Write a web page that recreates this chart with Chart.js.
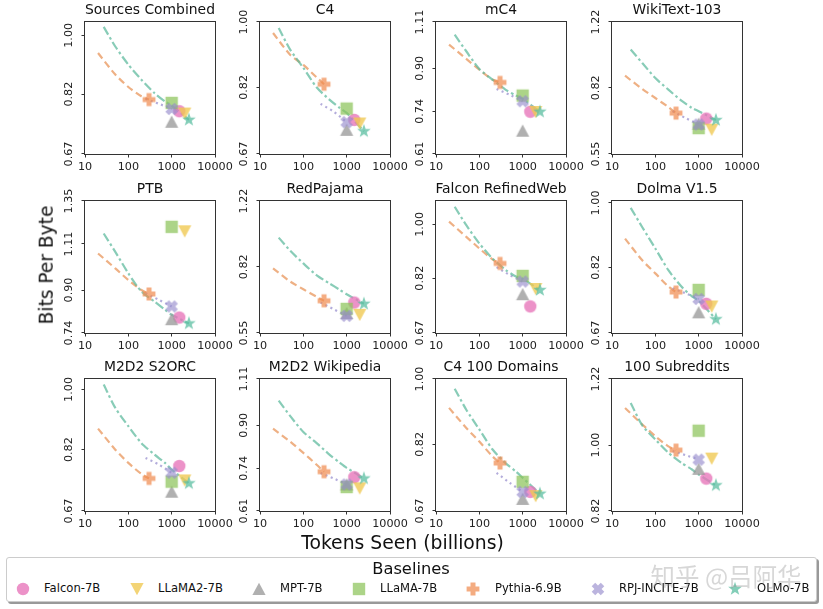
<!DOCTYPE html>
<html><head><meta charset="utf-8">
<script src="https://cdn.jsdelivr.net/npm/chart.js@4"></script>
<style>
html,body{margin:0;padding:0;background:#fff;width:823px;height:609px;overflow:hidden;font-family:"DejaVu Sans",sans-serif;color:#111}
canvas.c{position:absolute}
.t{position:absolute;white-space:nowrap}
#box{position:absolute;left:6px;top:557px;width:809px;height:43px;border:1px solid #ccc;border-radius:3px;background:#fff;box-shadow:2px 2px 0 #999}
</style></head><body>
<script>
const panelTitles = ["Sources Combined","C4","mC4","WikiText-103","PTB","RedPajama","Falcon RefinedWeb","Dolma V1.5","M2D2 S2ORC","M2D2 Wikipedia","C4 100 Domains","100 Subreddits"];
const yTickLists = [[0.67,0.82,1.00],[0.67,0.82,1.00],[0.61,0.74,0.90,1.11],[0.55,0.82,1.22],[0.74,0.90,1.11,1.35],[0.55,0.82,1.22],[0.67,0.82,1.00],[0.67,0.82,1.00],[0.67,0.82,1.00],[0.61,0.74,0.90,1.11],[0.67,0.82,1.00],[0.82,1.00,1.22]];
const yMaxes = [1.046,1.00,1.11,1.22,1.35,1.22,1.09,1.006,1.035,1.11,1.00,1.22];
const xTicks = [10,100,1000,10000];
const baselineNames = ["Falcon-7B","LLaMA2-7B","MPT-7B","LLaMA-7B","Pythia-6.9B","RPJ-INCITE-7B","OLMo-7B"];
const baselineTokens = [1500,2000,1000,1000,300,1000,2500];
const falcon = [.774,.743,.739,.681,.794,.661,.739,.733,.777,.711,.710,.904];
const llama2 = [.768,.735,.738,.637,1.176,.614,.788,.727,.741,.676,.701,.960];
const mpt = [.747,.721,.678,.660,.788,.620,.773,.714,.714,.688,.695,.931];
const llama = [.796,.769,.795,.643,1.200,.636,.827,.765,.738,.680,.732,1.044];
const pythia = [.805,.828,.844,.704,.884,.668,.866,.760,.746,.729,.775,.985];
const rpj = [.780,.738,.775,.657,.835,.610,.810,.744,.760,.688,.710,.957];
const olmo = [.752,.718,.739,.675,.773,.656,.785,.699,.734,.707,.706,.886];
const olmoCurveTokens = [27,50,100,200,400,700,1000,2500];
const olmoCurves = [
 [1.029,.963,.906,.861,.823,.800,.789,.752],
 [.982,.919,.870,.821,.790,.770,.759,.718],
 [1.048,.972,.897,.855,.817,.795,.783,.739],
 [1.033,.952,.870,.811,.759,.726,.712,.675],
 [1.164,1.071,.971,.894,.854,.823,.804,.773],
 [.978,.903,.837,.780,.742,.713,.695,.656],
 [1.067,.997,.932,.882,.846,.825,.818,.785],
 [.985,.928,.869,.813,.773,.750,.740,.699],
 [1.016,.941,.886,.838,.807,.785,.768,.734],
 [1.006,.938,.873,.831,.788,.759,.742,.707],
 [.971,.911,.858,.808,.775,.755,.741,.706],
 [1.135,1.061,1.017,.977,.948,.929,.915,.886]];
const pythiaCurveTokens = [20,50,100,200,300];
const pythiaCurves = [
 [.942,.876,.840,.814,.805],
 [.967,.905,.878,.846,.828],
 [1.002,.939,.894,.855,.844],
 [.882,.814,.771,.730,.704],
 [1.063,.993,.942,.900,.884],
 [.812,.750,.716,.685,.668],
 [1.010,.955,.915,.879,.866],
 [.896,.838,.805,.773,.760],
 [.879,.820,.785,.757,.746],
 [.886,.835,.794,.753,.729],
 [.916,.862,.827,.791,.775],
 [1.118,1.064,1.027,.996,.985]];
const rpjCurveTokens = [250,500,1000];
const rpjCurves = [
 [.807,.794,.780],[.780,.762,.738],[.819,.798,.775],[.712,.683,.657],
 [.887,.861,.835],[.661,.635,.610],[.854,.830,.810],[.769,.757,.744],
 [.798,.781,.760],[.725,.707,.688],[.752,.730,.710],[.982,.970,.957]];
const baselineValues = [falcon,llama2,mpt,llama,pythia,rpj,olmo];

/* styling and layout */
const FONT = '"DejaVu Sans"';
const colors = ["rgba(231,115,185,.78)","rgba(240,200,80,.78)","rgba(150,150,150,.75)","rgba(140,195,90,.72)","rgba(240,140,80,.72)","rgba(150,140,205,.65)","rgba(90,190,160,.75)"];
const shapes = ["circle","down","up","square","plus","x","star"];
const lineTeal="rgba(90,185,155,.72)", lineOrange="rgba(232,145,85,.72)", linePurple="rgba(150,140,205,.72)";
const colLeft=[85,260,436,612], rowTop=[22,201,379];
const PW=130, PH=132, SIDE=36, AXB=24, TITLE=22;

function marker(shape,color){
  const S=18, c=document.createElement('canvas'); c.width=S;c.height=S;
  const g=c.getContext('2d'); g.fillStyle=color; g.translate(S/2,S/2); g.beginPath();
  const poly=p=>{p.forEach((q,i)=>i?g.lineTo(q[0],q[1]):g.moveTo(q[0],q[1]));g.closePath();};
  if(shape==='circle') g.arc(0,0,6.2,0,Math.PI*2);
  if(shape==='square') g.rect(-6.2,-6.2,12.4,12.4);
  if(shape==='up') poly([[0,-6.2],[6.6,6],[-6.6,6]]);
  if(shape==='down') poly([[0,6.2],[6.6,-6],[-6.6,-6]]);
  const a=6.4,b=2.5;
  const plus=[[-b,-a],[b,-a],[b,-b],[a,-b],[a,b],[b,b],[b,a],[-b,a],[-b,b],[-a,b],[-a,-b],[-b,-b]];
  if(shape==='plus') poly(plus);
  if(shape==='x'){const r=Math.SQRT1_2; poly(plus.map(q=>[(q[0]-q[1])*r,(q[0]+q[1])*r]));}
  if(shape==='star'){const p=[];for(let i=0;i<10;i++){const R=i%2?2.9:7.2,t=-Math.PI/2+i*Math.PI/5;p.push([R*Math.cos(t),R*Math.sin(t)]);}poly(p);}
  g.fill();
  return c;
}
const frame={id:'frame',afterDraw(ch){const a=ch.chartArea,g=ch.ctx;g.save();g.strokeStyle='#333';g.lineWidth=1;
  g.strokeRect(Math.round(a.left)-.5,Math.round(a.top)-.5,Math.round(a.right-a.left)+1,Math.round(a.bottom-a.top)+1);g.restore();}};

panelTitles.forEach((title,i)=>{
  const cv=document.createElement('canvas'); cv.className='c';
  const w=SIDE+PW+SIDE,h=TITLE+PH+AXB;
  cv.style.left=(colLeft[i%4]-SIDE)+'px'; cv.style.top=(rowTop[Math.floor(i/4)]-TITLE)+'px';
  cv.style.width=w+'px';cv.style.height=h+'px';cv.width=w;cv.height=h;
  document.body.appendChild(cv);
  const pts=(xs,ys)=>xs.map((x,k)=>({x,y:ys[k]}));
  const datasets=[];
  const line=(label,xs,ys,color,dash,order)=>datasets.push({label,data:pts(xs,ys),showLine:true,borderColor:color,borderWidth:2.2,borderDash:dash,pointRadius:0,tension:.25,order});
  line('Pythia-6.9B curve',pythiaCurveTokens,pythiaCurves[i],lineOrange,[7,4],30);
  line('RPJ-INCITE-7B curve',rpjCurveTokens,rpjCurves[i],linePurple,[2,3.5],29);
  line('OLMo-7B curve',olmoCurveTokens,olmoCurves[i],lineTeal,[9,3,2.5,3],28);
  baselineNames.forEach((n,k)=>datasets.push({label:n,data:[{x:baselineTokens[k],y:baselineValues[k][i]}],
    pointStyle:marker(shapes[k],colors[k]),pointRadius:6,showLine:false,order:20-k}));
  new Chart(cv,{type:'scatter',data:{datasets},plugins:[frame],options:{
    responsive:false,animation:false,devicePixelRatio:1,
    layout:{padding:0},
    plugins:{legend:{display:false},tooltip:{enabled:false},
      title:{display:true,text:title,color:'#111',font:{family:FONT,size:13.9,weight:'normal',lineHeight:1.2},padding:{top:2,bottom:3.3}}},
    scales:{
      x:{type:'logarithmic',min:10,max:10000,
        afterBuildTicks:s=>{s.ticks=xTicks.map(v=>({value:v,major:true}));},
        afterFit:s=>{s.height=AXB;},
        border:{display:false},
        grid:{display:true,drawOnChartArea:false,drawTicks:true,tickLength:3.5,color:'#333',lineWidth:1},
        ticks:{autoSkip:false,minRotation:0,maxRotation:0,padding:3,color:'#222',font:{family:FONT,size:11.2},callback:v=>String(v)}},
      y:{type:'logarithmic',min:yTickLists[i][0],max:yMaxes[i],
        afterBuildTicks:s=>{s.ticks=yTickLists[i].map(v=>({value:v,major:true}));},
        afterFit:s=>{s.width=SIDE;},
        border:{display:false},
        grid:{display:true,drawOnChartArea:false,drawTicks:true,tickLength:3.5,color:'#333',lineWidth:1},
        ticks:{autoSkip:false,minRotation:90,maxRotation:90,padding:0,crossAlign:'center',color:'#222',font:{family:FONT,size:11.2},callback:v=>Number(v).toFixed(2)}},
      spacer:{type:'linear',position:'right',
        afterFit:s=>{s.width=SIDE;},
        border:{display:false},grid:{display:false},ticks:{display:false}}
    }}});
});

function text(s,x,y,size,extra){const d=document.createElement('div');d.className='t';d.textContent=s;
  d.style.cssText+=`left:${x}px;top:${y}px;font-size:${size}px;line-height:1;transform:translate(-50%,-50%) ${extra||''};`;
  document.body.appendChild(d);return d;}
text("Tokens Seen (billions)",402.5,543,18.8);
text("Bits Per Byte",47,265,18.6,"rotate(-90deg)");
const box=document.createElement('div');box.id='box';document.body.appendChild(box);
text("Baselines",411,569,16.3);
const legendMarkX=[23,137,259,359,473,598,735], legendTextX=[44,158,280,380,495,619,757];
baselineNames.forEach((n,k)=>{
  const m=marker(shapes[k],colors[k]);m.style.cssText=`position:absolute;left:${legendMarkX[k]-9}px;top:${589-9}px`;document.body.appendChild(m);
  const d=text(n,legendTextX[k],589,11.6);d.style.transform='translate(0,-50%)';
});
const wm=text("知乎 @吕阿华",726,576,24.5);wm.style.fontFamily='"Noto Sans CJK SC"';wm.style.color='rgba(150,150,150,.38)';
</script>
</body></html>
